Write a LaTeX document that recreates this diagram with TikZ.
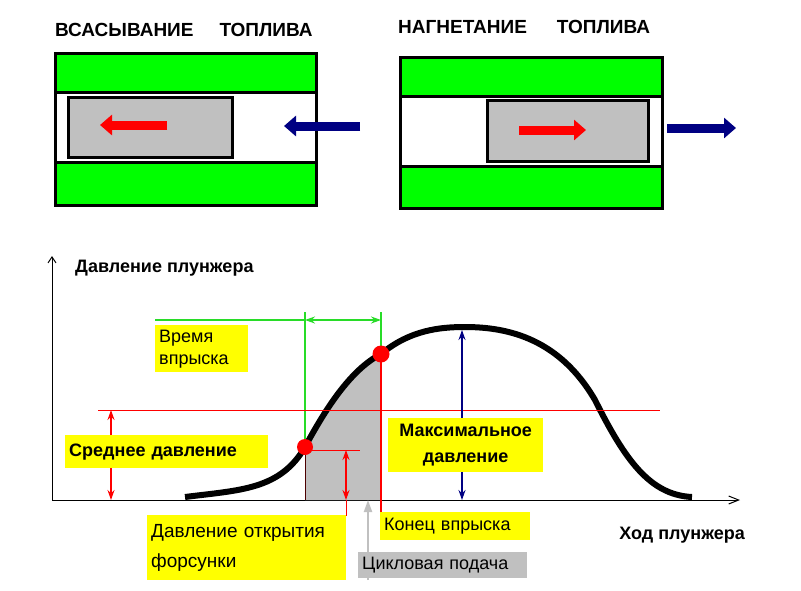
\documentclass[tikz,border=0pt]{standalone}
\usepackage{fontspec}
\setmainfont{Liberation Sans}
\usetikzlibrary{arrows.meta}
\definecolor{gr}{RGB}{0,255,0}
\definecolor{lg}{RGB}{40,220,40}
\definecolor{yl}{RGB}{255,255,0}
\definecolor{gy}{RGB}{192,192,192}
\definecolor{nb}{RGB}{0,0,130}
\begin{document}
\begin{tikzpicture}[x=1pt,y=-1pt,
  lbl/.style={font=\fontsize{18}{22}\selectfont, inner sep=4pt},
  ybox/.style={lbl, fill=yl, align=left},
  bbl/.style={font=\bfseries\fontsize{18}{21}\selectfont, inner sep=0pt},
  fat/.style={line width=9pt, -{Triangle[length=12pt,width=20pt]}},
  dbl/.style={{Stealth[length=10pt,width=7pt]}-{Stealth[length=10pt,width=7pt]}, line width=1.2pt}]
\useasboundingbox (0,0) rectangle (801,590);
\fill[white] (0,0) rectangle (801,590);
% titles
\node[bbl, anchor=west, font=\bfseries\fontsize{19}{21}\selectfont] (t1) at (55,30) {ВСАСЫВАНИЕ\hspace{26pt}ТОПЛИВА};
\node[bbl, anchor=west, font=\bfseries\fontsize{19}{21}\selectfont] (t2) at (398,27) {НАГНЕТАНИЕ\hspace{30pt}ТОПЛИВА};
% left cylinder
\draw[line width=3pt] (55,53) rectangle (316,205);
\draw[line width=3pt, fill=gr] (55,53) rectangle (316,92);
\draw[line width=3pt, fill=gr] (55,162) rectangle (316,205);
\draw[line width=3pt, fill=gy] (68,97) rectangle (232,157);
\draw[fat, red] (167,125) -- (100,125);
\draw[fat, nb] (360,126) -- (284,126);
% right cylinder
\draw[line width=3pt] (400,57) rectangle (662,208);
\draw[line width=3pt, fill=gr] (400,57) rectangle (662,96);
\draw[line width=3pt, fill=gr] (400,166) rectangle (662,208);
\draw[line width=3pt, fill=gy] (487,100) rectangle (648,161);
\draw[fat, red] (519,130) -- (586,130);
\draw[fat, nb] (667,128) -- (736,128);
% axes
\draw[line width=1pt, -{Straight Barb[length=6pt,width=8pt]}] (52,500) -- (52,256);
\draw[line width=1pt, -{Straight Barb[length=10pt,width=8pt]}] (52,500) -- (740,500);
\node[bbl, anchor=west] (yl) at (75,268) {Давление плунжера};
\node[bbl, anchor=east] (xl) at (745,535) {Ход плунжера};
% grey area
\fill[gy] (305,500) -- (305,447) .. controls (325,410) and (350,370) .. (381,354) -- (381,500) -- cycle;
% curve
\draw[line width=6pt] (185,497) .. controls (240,490) and (280,490) .. (305,447)
  .. controls (325,410) and (350,370) .. (381,354)
  .. controls (410,330) and (440,327) .. (465,327)
  .. controls (510,327) and (560,340) .. (595,400)
  .. controls (625,460) and (650,495) .. (692,497);
% green
\draw[lg, line width=1.2pt] (305,312) -- (305,447);
\draw[lg, line width=1.2pt] (381,312) -- (381,354);
\draw[lg, line width=1.2pt] (155,320) -- (305,320);
\draw[lg, dbl] (305,320) -- (381,320);
\node[ybox, anchor=north west, text width=85pt, minimum height=47pt] (vr) at (155,325) {Время\\впрыска};
% red lines
\draw[red, line width=1pt] (98,410) -- (660,410);
\draw[red, dbl] (111,410) -- (111,500);
\node[ybox, anchor=north west, font=\bfseries\fontsize{18}{21}\selectfont, text width=195pt, minimum height=33pt] (sd) at (65,435) {Среднее давление};
\draw[red, line width=1pt] (305,450) -- (360,450);
\draw[red, dbl] (346,450) -- (346,500);
\draw[red, line width=1pt] (346,500) -- (346,516);
\draw[red, line width=1.5pt] (381,354) -- (381,512);
\draw[black!70!red, line width=1pt] (305,447) -- (305,500);
\fill[red] (305,447) circle (8pt);
\fill[red] (381,354) circle (8.5pt);
% blue
\draw[nb, dbl] (462,330) -- (462,500);
\node[ybox, anchor=north west, align=center, font=\bfseries\fontsize{18}{26}\selectfont, text width=147pt, minimum height=54pt] (md) at (388,418) {Максимальное\\давление};
% bottom labels
\node[ybox, anchor=north west, text width=191pt, minimum height=65pt, font=\fontsize{19}{30}\selectfont] (do) at (147,515) {Давление открытия\\форсунки};
\draw[gy, line width=2pt, -{Triangle[length=12pt,width=8pt]}] (368,580) -- (368,500);
\node[lbl, fill=gy, anchor=north west, text width=161pt, minimum height=26pt, inner sep=4pt] (cp) at (358,552) {Цикловая подача};
\node[ybox, anchor=north west, text width=142pt, minimum height=28pt] (kv) at (380,512) {Конец впрыска};
\end{tikzpicture}
\end{document}
